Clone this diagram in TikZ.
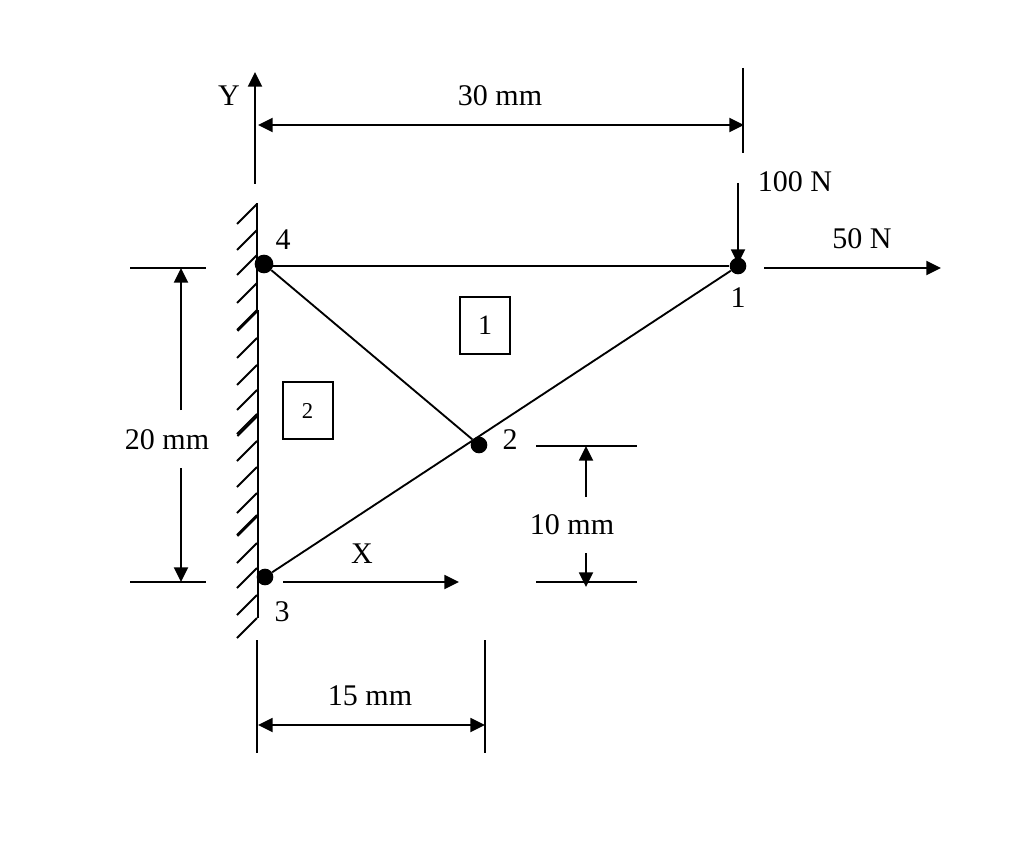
\documentclass[tikz,border=0pt]{standalone}
\usepackage{fontspec}
\setmainfont{Liberation Serif}
\usetikzlibrary{arrows.meta}

\tikzset{
    lbl/.style={inner sep=0pt, font=\fontsize{22.5}{24}\selectfont},
    nodept/.style={circle, fill=black, inner sep=0pt, minimum size=12.5pt},
    elembox/.style={draw, line width=1.5pt, inner sep=0pt, minimum width=37.5pt, minimum height=42.5pt},
    dimline/.style={line width=1.4pt},
    arr/.style={line width=1.4pt, -{Triangle[length=11pt,width=10.5pt]}},
    dblarr/.style={line width=1.4pt, {Triangle[length=11pt,width=10.5pt]}-{Triangle[length=11pt,width=10.5pt]}},
    hatch/.style={line width=1.4pt}
}

\begin{document}
\begin{tikzpicture}[x=0.75pt,y=-0.75pt]
    \useasboundingbox (0,0) rectangle (1024,845);

    % Wall
    \draw[line width=1.7pt] (257,203) -- (257,310);
    \draw[line width=1.7pt] (258,310) -- (258,618);
    \foreach \yy in {204,230,255,283,310,338,365,390,414,441,467,493,515,543,568,595,618}
        \draw[hatch] (257,\yy) -- ++(-20,20);
    \foreach \yy in {311,416,516}
        \draw[hatch] (257.5,\yy) -- ++(-20,20);

    % Points
    \node[nodept] (n1) at (738,266) {};
    \node[nodept] (n2) at (479,445) {};
    \node[nodept] (n3) at (265,577) {};
    \node[nodept, minimum size=14pt] (n4) at (264,264) {};

    % Elements
    \draw[line width=1.4pt] (n4 |- n1) -- (n1);
    \draw[line width=1.4pt] (n4) -- (n2);
    \draw[line width=1.4pt] (n3) -- (n1);

    % Labels
    \node[lbl] (l1) at (738,298) {1};
    \node[lbl] (l2) at (510,440) {2};
    \node[lbl] (l3) at (282,612) {3};
    \node[lbl] (l4) at (283,240) {4};
    \node[elembox, font=\fontsize{21}{23}\selectfont] (e1) at (485,325.5) {1};
    \node[elembox, font=\fontsize{17}{19}\selectfont] (e2) at (307.5,410.5) {2};

    % Axes
    \coordinate (yS) at (255,184);
    \coordinate (yE) at (255,72);
    \draw[arr] (yS) -- (yE);
    \node[lbl] (yL) at (229,96) {Y};
    \coordinate (xS) at (283,582);
    \coordinate (xE) at (459,582);
    \draw[arr] (xS) -- (xE);
    \node[lbl] (xL) at (362,554) {X};

    % Loads
    \coordinate (fyS) at (738,183);
    \coordinate (fyE) at (738,264);
    \draw[arr] (fyS) -- (fyE);
    \node[lbl] (fyL) at (795,182) {100 N};
    \coordinate (fxS) at (764,268);
    \coordinate (fxE) at (941,268);
    \draw[arr] (fxS) -- (fxE);
    \node[lbl] (fxL) at (862,239) {50 N};

    % Dimension 30 mm
    \coordinate (a1) at (743,68);
    \coordinate (a2) at (743,153);
    \coordinate (a3) at (258,125);
    \coordinate (a4) at (744,125);
    \draw[dimline] (a1) -- (a2);
    \draw[dblarr] (a3) -- (a4);
    \node[lbl] (aL) at (500,96) {30 mm};

    % Dimension 20 mm
    \coordinate (b1) at (130,268);
    \coordinate (b2) at (206,268);
    \coordinate (b3) at (130,582);
    \coordinate (b4) at (206,582);
    \coordinate (b5) at (181,410);
    \coordinate (b6) at (181,268);
    \coordinate (b7) at (181,468);
    \coordinate (b8) at (181,582);
    \draw[dimline] (b1) -- (b2);
    \draw[dimline] (b3) -- (b4);
    \draw[arr] (b5) -- (b6);
    \draw[arr] (b7) -- (b8);
    \node[lbl] (bL) at (167,440) {20 mm};

    % Dimension 10 mm
    \coordinate (c1) at (536,446);
    \coordinate (c2) at (637,446);
    \coordinate (c3) at (536,582);
    \coordinate (c4) at (637,582);
    \coordinate (c5) at (586,497);
    \coordinate (c6) at (586,446);
    \coordinate (c7) at (586,553);
    \coordinate (c8) at (586,587);
    \draw[dimline] (c1) -- (c2);
    \draw[dimline] (c3) -- (c4);
    \draw[arr] (c5) -- (c6);
    \draw[arr] (c7) -- (c8);
    \node[lbl] (cL) at (572,525) {10 mm};

    % Dimension 15 mm
    \coordinate (d1) at (257,640);
    \coordinate (d2) at (257,753);
    \coordinate (d3) at (485,640);
    \coordinate (d4) at (485,753);
    \coordinate (d5) at (258,725);
    \coordinate (d6) at (485,725);
    \draw[dimline] (d1) -- (d2);
    \draw[dimline] (d3) -- (d4);
    \draw[dblarr] (d5) -- (d6);
    \node[lbl] (dL) at (370,696) {15 mm};
\end{tikzpicture}
\end{document}
